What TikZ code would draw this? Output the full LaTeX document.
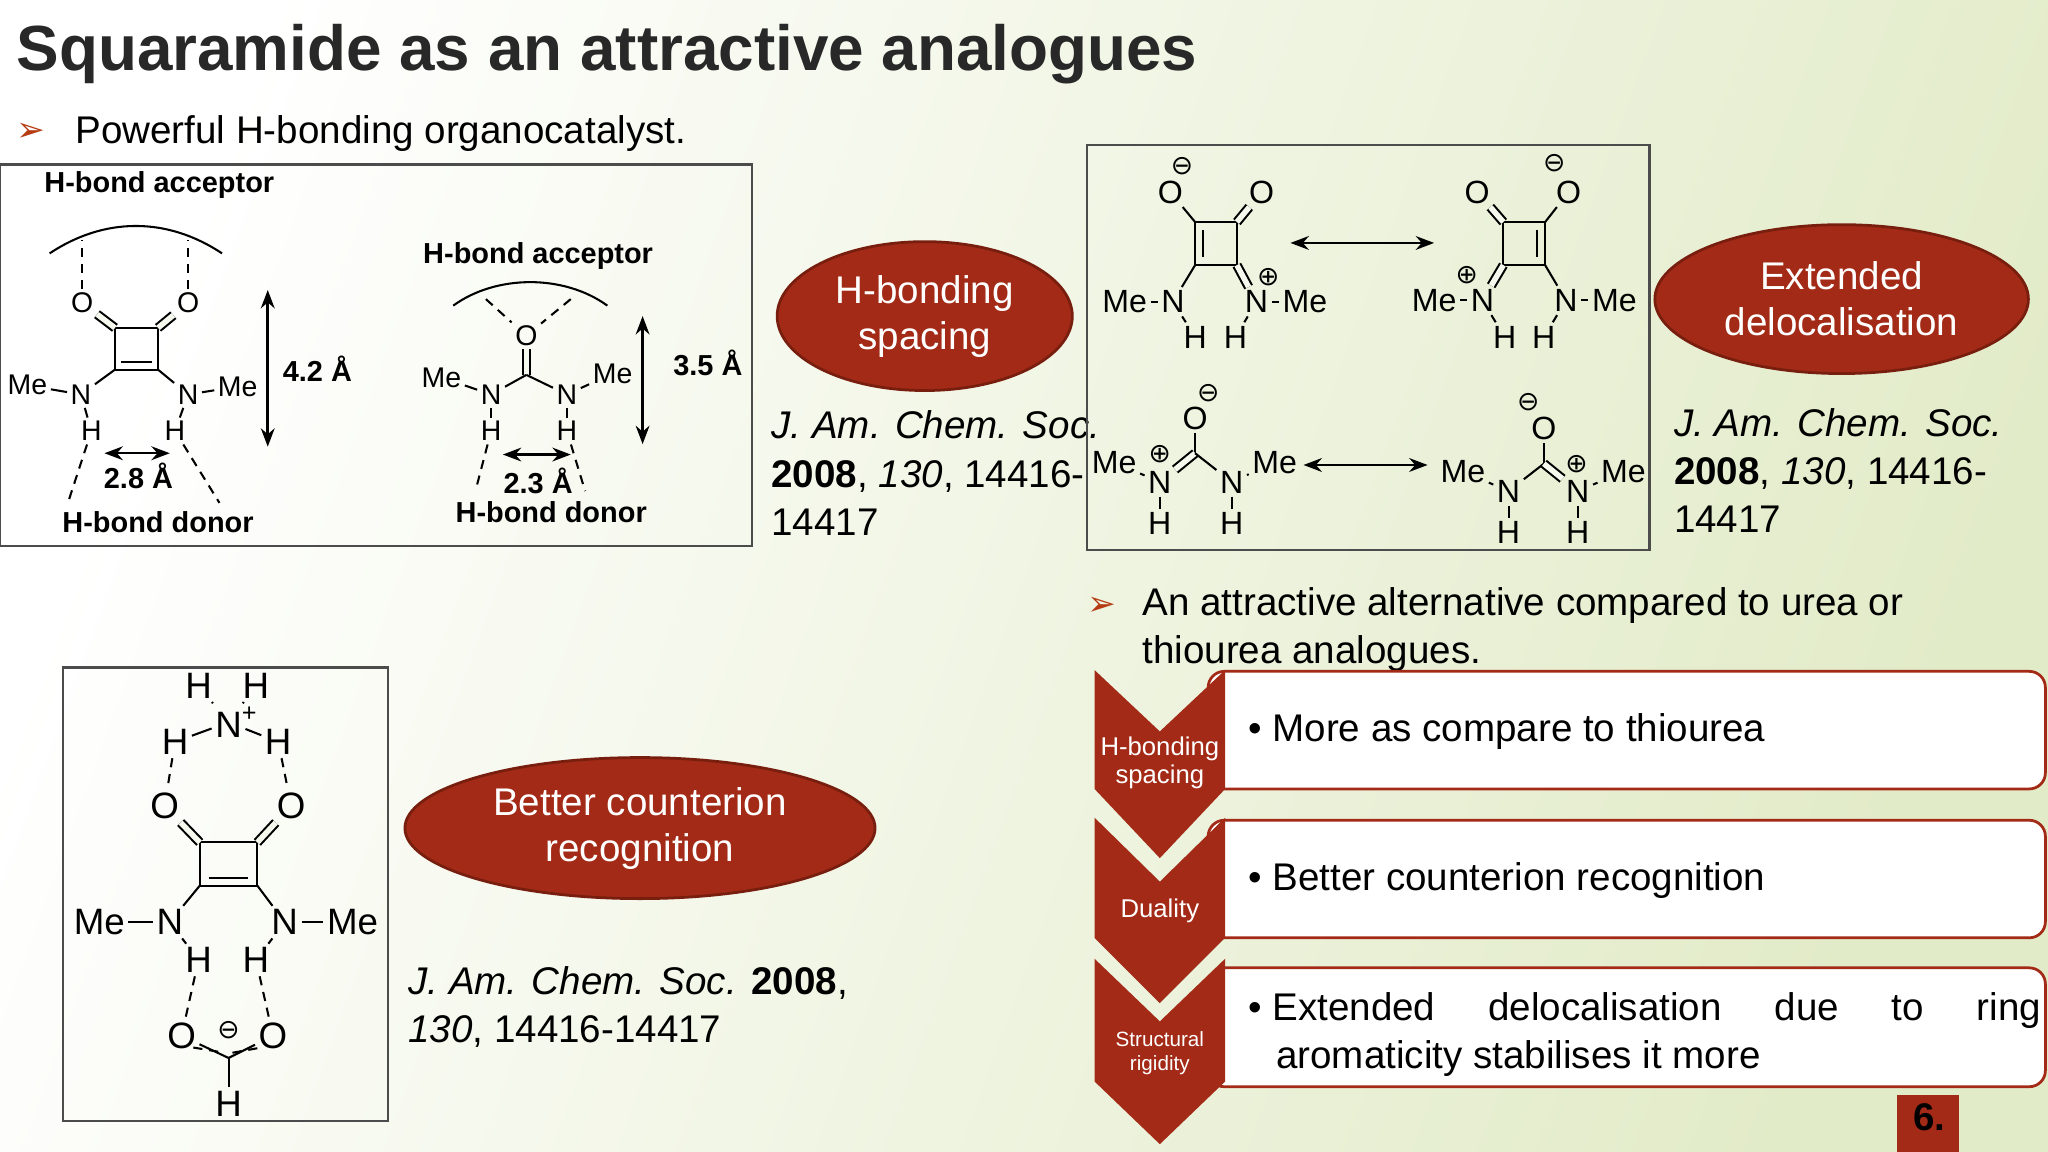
\documentclass[tikz,border=0pt]{standalone}
\usepackage{fontspec}
\setmainfont{Liberation Sans}
\newfontfamily\djv{DejaVu Sans}
\usetikzlibrary{shapes.geometric,arrows.meta}
\definecolor{bgg}{RGB}{226,235,200}
\definecolor{sred}{RGB}{163,42,22}
\definecolor{sredd}{RGB}{120,30,15}
\definecolor{ttl}{RGB}{40,40,40}
\newcommand{\chemf}{\fontsize{6.2pt}{7pt}\selectfont}
\newcommand{\chg}[1]{{\djv\fontsize{5.8pt}{6pt}\selectfont #1}}
\tikzset{
 atm/.style={font=\chemf, inner sep=0.6pt},
 atmb/.style={font=\fontsize{7pt}{8pt}\selectfont, inner sep=0.6pt},
 atmc/.style={font=\fontsize{8pt}{9pt}\selectfont, inner sep=0.6pt},
 bnd/.style={line width=0.45pt},
 dbl/.style={line width=0.45pt, double, double distance=1.2pt, double=white!70!bgg},
 hb/.style={line width=0.45pt, dash pattern=on 2pt off 1.5pt},
 dar/.style={line width=0.55pt, {Stealth[length=4pt]}-{Stealth[length=4pt]}},
 frame/.style={draw=black!70, line width=0.5pt},
 lbl/.style={font=\bfseries\fontsize{6.3pt}{7pt}\selectfont, inner sep=0},
 body/.style={font=\fontsize{8.4pt}{10.5pt}\selectfont, inner sep=0, anchor=base west},
 ell/.style={ellipse, inner sep=0, fill=sred, draw=sredd, line width=0.6pt, text=white, align=center, font=\fontsize{8.4pt}{10pt}\selectfont},
 chev/.style={fill=sred, draw=none},
 chevt/.style={text=white, align=center, font=\fontsize{5pt}{5.8pt}\selectfont, inner sep=0},
 rbox/.style={fill=white, draw=sred, line width=0.6pt},
}
\begin{document}
\begin{tikzpicture}[x=0.1mm,y=-0.1mm]
\useasboundingbox (0,0) rectangle (1568,882);
\shade[left color=white, right color=bgg, shading angle=70] (0,0) rectangle (1568,882);
% title
\node[anchor=base west, inner sep=0, text=ttl, font=\bfseries\fontsize{13.9pt}{15pt}\selectfont] (title) at (12,54) {Squaramide as an attractive analogues};
\node[anchor=base west, inner sep=0, text=sred!80!orange, font=\djv\fontsize{7.5pt}{9pt}\selectfont] (b1) at (12,108) {➢};
\node[body] (t1) at (57,110) {Powerful H-bonding organocatalyst.};
% ---------- box 1
\draw[frame] (0,126) rectangle (576,418);
\node[lbl] (acc1) at (122,142) {H-bond acceptor};
\node[lbl] (don1) at (121,400) {H-bond donor};
\draw[bnd] (38,194) .. controls (80,166) and (128,166) .. (170,194);
\coordinate (q1) at (88,251); \coordinate (q2) at (121,251);
\coordinate (q3) at (121,283); \coordinate (q4) at (88,283);
\draw[bnd] (q1) -- (q2) -- (q3) -- (q4) -- cycle;
\draw[bnd] (93,277) -- (116,277);
\node[atm] (o1) at (63,232) {O}; \node[atm] (o2) at (144,232) {O};
\draw[dbl] (q1) -- (o1); \draw[dbl] (q2) -- (o2);
\node[atm] (n1) at (62,302) {N}; \node[atm] (n2) at (144,302) {N};
\draw[bnd] (q4) -- (n1); \draw[bnd] (q3) -- (n2);
\node[atm] (me1) at (21,295) {Me}; \node[atm] (me2) at (182,296) {Me};
\draw[bnd] (me1) -- (n1); \draw[bnd] (n2) -- (me2);
\node[atm] (h1) at (70,330) {H}; \node[atm] (h2) at (134,330) {H};
\draw[bnd] (n1) -- (h1); \draw[bnd] (n2) -- (h2);
\draw[hb] (o1) -- (63,184); \draw[hb] (o2) -- (144,184);
\draw[hb] (h1) -- (52,385); \draw[hb] (h2) -- (168,385);
\coordinate (d1a) at (80,347); \coordinate (d1b) at (130,347);
\draw[dar] (d1a) -- (d1b);
\node[lbl] (l28) at (106,364) {2.8 Å};
\coordinate (v1a) at (205,222); \coordinate (v1b) at (205,342);
\draw[dar] (v1a) -- (v1b);
\node[lbl] (l42) at (243,282) {4.2 Å};
% urea
\node[lbl] (acc2) at (412,196) {H-bond acceptor};
\draw[bnd] (347,234) .. controls (380,210) and (432,210) .. (465,234);
\node[atm] (uo) at (403,257) {O};
\coordinate (uc) at (403,287);
\draw[dbl] (uo) -- (uc);
\node[atm] (un1) at (376,302) {N}; \node[atm] (un2) at (434,302) {N};
\draw[bnd] (uc) -- (un1); \draw[bnd] (uc) -- (un2);
\node[atm] (ume1) at (338,289) {Me}; \node[atm] (ume2) at (469,286) {Me};
\draw[bnd] (ume1) -- (un1); \draw[bnd] (un2) -- (ume2);
\node[atm] (uh1) at (376,330) {H}; \node[atm] (uh2) at (434,330) {H};
\draw[bnd] (un1) -- (uh1); \draw[bnd] (un2) -- (uh2);
\draw[hb] (372,229) -- (uo); \draw[hb] (437,229) -- (uo);
\draw[hb] (uh1) -- (364,376); \draw[hb] (uh2) -- (448,376);
\coordinate (d2a) at (385,348); \coordinate (d2b) at (437,348);
\draw[dar] (d2a) -- (d2b);
\node[lbl] (l23) at (412,368) {2.3 Å};
\node[lbl] (don2) at (422,392) {H-bond donor};
\coordinate (v2a) at (492,242); \coordinate (v2b) at (492,340);
\draw[dar] (v2a) -- (v2b);
\node[lbl] (l35) at (542,278) {3.5 Å};
% ellipse 1
\node[ell, minimum width=22.6mm, minimum height=11.4mm] (e1) at (708,242) {H-bonding\\spacing};
\node[body, align=left, anchor=north west] (r1) at (590,314) {\textit{J. Am. Chem. Soc.}\\\textbf{2008}, \textit{130}, 14416-\\14417};
% ---------- box 2
\draw[frame] (832,111) rectangle (1263,421);
% top-left
\coordinate (s1) at (915,170); \coordinate (s2) at (947,170);
\coordinate (s3) at (947,203); \coordinate (s4) at (915,203);
\draw[bnd] (s1) -- (s2) -- (s3) -- (s4) -- cycle;
\draw[bnd] (921,176) -- (921,197);
\node[atmb] (ao1) at (896,147) {O}; \node[atmb] (ao2) at (966,147) {O};
\node[atmb] (am1) at (905,127) {\chg{⊖}};
\draw[bnd] (s1) -- (ao1); \draw[dbl] (s2) -- (ao2);
\node[atmb] (an1) at (898,231) {N}; \node[atmb] (an2) at (962,231) {N};
\node[atmb] (ap1) at (971,212) {\chg{⊕}};
\draw[bnd] (s4) -- (an1); \draw[dbl] (s3) -- (an2);
\node[atmb] (ame1) at (861,231) {Me}; \node[atmb] (ame2) at (999,231) {Me};
\draw[bnd] (ame1) -- (an1); \draw[bnd] (an2) -- (ame2);
\node[atmb] (ah1) at (915,258) {H}; \node[atmb] (ah2) at (946,258) {H};
\draw[bnd] (an1) -- (ah1); \draw[bnd] (an2) -- (ah2);
\coordinate (ar1a) at (988,186); \coordinate (ar1b) at (1098,186);
\draw[dar] (ar1a) -- (ar1b);
% top-right
\coordinate (t1c) at (1151,170); \coordinate (t2c) at (1183,170);
\coordinate (t3c) at (1183,203); \coordinate (t4c) at (1151,203);
\draw[bnd] (t1c) -- (t2c) -- (t3c) -- (t4c) -- cycle;
\draw[bnd] (1177,176) -- (1177,197);
\node[atmb] (bo1) at (1131,147) {O}; \node[atmb] (bo2) at (1201,147) {O};
\node[atmb] (bm1) at (1190,125) {\chg{⊖}};
\draw[dbl] (t1c) -- (bo1); \draw[bnd] (t2c) -- (bo2);
\node[atmb] (bn1) at (1135,230) {N}; \node[atmb] (bn2) at (1199,230) {N};
\node[atmb] (bp1) at (1123,211) {\chg{⊕}};
\draw[dbl] (t4c) -- (bn1); \draw[bnd] (t3c) -- (bn2);
\node[atmb] (bme1) at (1098,230) {Me}; \node[atmb] (bme2) at (1236,230) {Me};
\draw[bnd] (bme1) -- (bn1); \draw[bnd] (bn2) -- (bme2);
\node[atmb] (bh1) at (1152,258) {H}; \node[atmb] (bh2) at (1182,258) {H};
\draw[bnd] (bn1) -- (bh1); \draw[bnd] (bn2) -- (bh2);
% bottom-left
\node[atmb] (co) at (915,320) {O}; \node[atmb] (cm) at (925,301) {\chg{⊖}};
\coordinate (cc) at (915,347);
\draw[bnd] (co) -- (cc);
\node[atmb] (cn1) at (888,369) {N}; \node[atmb] (cn2) at (943,369) {N};
\node[atmb] (cp1) at (888,348) {\chg{⊕}};
\draw[dbl] (cc) -- (cn1); \draw[bnd] (cc) -- (cn2);
\node[atmb] (cme1) at (853,354) {Me}; \node[atmb] (cme2) at (976,354) {Me};
\draw[bnd] (cme1) -- (cn1); \draw[bnd] (cn2) -- (cme2);
\node[atmb] (ch1) at (888,401) {H}; \node[atmb] (ch2) at (943,401) {H};
\draw[bnd] (cn1) -- (ch1); \draw[bnd] (cn2) -- (ch2);
\coordinate (ar2a) at (998,356); \coordinate (ar2b) at (1093,356);
\draw[dar] (ar2a) -- (ar2b);
% bottom-right
\node[atmb] (do) at (1182,328) {O}; \node[atmb] (dm) at (1170,308) {\chg{⊖}};
\coordinate (dc) at (1182,355);
\draw[bnd] (do) -- (dc);
\node[atmb] (dn1) at (1155,376) {N}; \node[atmb] (dn2) at (1208,376) {N};
\node[atmb] (dp2) at (1207,355) {\chg{⊕}};
\draw[bnd] (dc) -- (dn1); \draw[dbl] (dc) -- (dn2);
\node[atmb] (dme1) at (1120,361) {Me}; \node[atmb] (dme2) at (1243,361) {Me};
\draw[bnd] (dme1) -- (dn1); \draw[bnd] (dn2) -- (dme2);
\node[atmb] (dh1) at (1155,408) {H}; \node[atmb] (dh2) at (1208,408) {H};
\draw[bnd] (dn1) -- (dh1); \draw[bnd] (dn2) -- (dh2);
% ellipse 2
\node[ell, minimum width=28.6mm, minimum height=11.4mm] (e2) at (1410,229) {Extended\\delocalisation};
\node[body, align=left, anchor=north west] (r2) at (1281,312) {\textit{J. Am. Chem. Soc.}\\\textbf{2008}, \textit{130}, 14416-\\14417};
% bullet 2
\node[anchor=base west, inner sep=0, text=sred!80!orange, font=\djv\fontsize{7.5pt}{9pt}\selectfont] (b2) at (832,471) {➢};
\node[body, align=left, anchor=north west] (t2) at (874,449) {An attractive alternative compared to urea or\\thiourea analogues.};
% right boxes
\filldraw[rbox, rounded corners=3.5pt] (925,514) rectangle (1566,604);
\filldraw[rbox, rounded corners=3.5pt] (925,628) rectangle (1566,718);
\filldraw[rbox, rounded corners=3.5pt] (925,741) rectangle (1566,832);
\node[body] (x1) at (955,568) {\textbullet\ More as compare to thiourea};
\node[body] (x2) at (955,682) {\textbullet\ Better counterion recognition};
\node[body, anchor=north west, text width=60.7mm, align=justify] (x3) at (955,759) {\textbullet\ Extended\hfill delocalisation\hfill due\hfill to\hfill ring\par\hspace*{6.1pt}aromaticity stabilises it more};
% chevrons
\fill[chev] (838,513) -- (888,560) -- (938,513) -- (938,604) -- (888,657) -- (838,604) -- cycle;
\fill[chev] (838,626) -- (888,675) -- (938,626) -- (938,718) -- (888,768) -- (838,718) -- cycle;
\fill[chev] (838,734) -- (888,782) -- (938,734) -- (938,828) -- (888,876) -- (838,828) -- cycle;
\node[chevt, font=\fontsize{5.6pt}{6.2pt}\selectfont] (c1) at (888,584) {H-bonding\\spacing};
\node[chevt, font=\fontsize{5.6pt}{6.2pt}\selectfont] (c2) at (888,697) {Duality};
\node[chevt, font=\fontsize{4.5pt}{5.2pt}\selectfont] (c3) at (888,806) {Structural\\rigidity};
% ---------- box 3
\draw[frame] (48,511) rectangle (297,858);
\node[atmc] (gh1) at (152,525) {H}; \node[atmc] (gh2) at (196,525) {H};
\node[atmc] (gn) at (175,553) {N\rlap{\raisebox{3.5pt}{\fontsize{5.5pt}{6pt}\selectfont+}}};
\node[atmc] (gh3) at (134,568) {H}; \node[atmc] (gh4) at (213,568) {H};
\draw[bnd] (gh1) -- (gn); \draw[bnd] (gh2) -- (gn); \draw[bnd] (gh3) -- (gn); \draw[bnd] (gh4) -- (gn);
\node[atmc] (go1) at (126,617) {O}; \node[atmc] (go2) at (223,617) {O};
\draw[hb] (gh3) -- (go1); \draw[hb] (gh4) -- (go2);
\coordinate (g1) at (153,645); \coordinate (g2) at (197,645);
\coordinate (g3) at (197,678); \coordinate (g4) at (153,678);
\draw[bnd] (g1) -- (g2) -- (g3) -- (g4) -- cycle;
\draw[bnd] (160,672) -- (190,672);
\draw[dbl] (g1) -- (go1); \draw[dbl] (g2) -- (go2);
\node[atmc] (gn1) at (130,706) {N}; \node[atmc] (gn2) at (218,706) {N};
\draw[bnd] (g4) -- (gn1); \draw[bnd] (g3) -- (gn2);
\node[atmc] (gme1) at (76,706) {Me}; \node[atmc] (gme2) at (270,706) {Me};
\draw[bnd] (gme1) -- (gn1); \draw[bnd] (gn2) -- (gme2);
\node[atmc] (gh5) at (152,735) {H}; \node[atmc] (gh6) at (196,735) {H};
\draw[bnd] (gn1) -- (gh5); \draw[bnd] (gn2) -- (gh6);
\node[atmc] (go3) at (139,793) {O}; \node[atmc] (go4) at (209,793) {O};
\node[atmc] (gm) at (175,789) {\chg{⊖}};
\draw[hb] (gh5) -- (go3); \draw[hb] (gh6) -- (go4);
\coordinate (gc) at (175,810);
\draw[bnd] (go3) -- (gc) -- (go4);
\draw[hb] (148,802) -- (172,806); \draw[hb] (178,806) -- (200,802);
\node[atmc] (gh7) at (175,845) {H};
\draw[bnd] (gc) -- (gh7);
% ellipse 3
\node[ell, minimum width=36mm, minimum height=10.8mm] (e3) at (490,634) {Better counterion\\recognition};
\node[body, align=left, anchor=north west] (r3) at (312,739) {\textit{J. Am. Chem. Soc.} \textbf{2008},\\\textit{130}, 14416-14417};
% page number
\fill[sred] (1452,838) rectangle (1500,882);
\node[inner sep=0, font=\bfseries\fontsize{8.4pt}{10pt}\selectfont] (pg) at (1477,855) {6.};
\end{tikzpicture}
\end{document}
